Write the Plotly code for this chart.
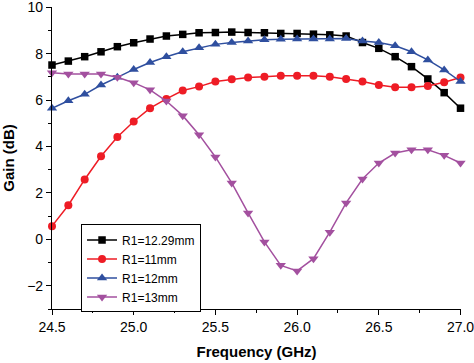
import plotly.graph_objects as go

freq = [24.5 + 0.1 * i for i in range(26)]
freq = [round(f, 1) for f in freq]

r1_1229 = [7.51, 7.68, 7.87, 8.08, 8.30, 8.47, 8.63, 8.76, 8.83, 8.90, 8.91, 8.93, 8.91,
           8.90, 8.87, 8.87, 8.84, 8.81, 8.76, 8.48, 8.23, 7.87, 7.44, 6.91, 6.32, 5.65]
r1_11 = [0.57, 1.47, 2.58, 3.58, 4.41, 5.08, 5.65, 6.05, 6.41, 6.58, 6.80, 6.90, 6.97,
         7.01, 7.05, 7.05, 7.05, 7.01, 6.91, 6.80, 6.65, 6.55, 6.55, 6.61, 6.77, 6.97]
r1_12 = [5.65, 5.97, 6.25, 6.65, 6.98, 7.32, 7.62, 7.87, 8.08, 8.25, 8.40, 8.48, 8.55,
         8.60, 8.62, 8.63, 8.63, 8.63, 8.65, 8.55, 8.48, 8.34, 8.08, 7.73, 7.30, 6.80]
r1_13 = [7.18, 7.12, 7.12, 7.12, 6.98, 6.75, 6.44, 5.96, 5.33, 4.51, 3.55, 2.43, 1.14,
         -0.11, -1.12, -1.36, -0.83, 0.31, 1.57, 2.60, 3.29, 3.72, 3.86, 3.86, 3.62, 3.29]

series = [
    ("R1=12.29mm", r1_1229, "#000000", "square", 7.5),
    ("R1=11mm", r1_11, "#ee1c25", "circle", 8),
    ("R1=12mm", r1_12, "#2f4f9f", "triangle-up", 9),
    ("R1=13mm", r1_13, "#a3509f", "triangle-down", 9),
]

fig = go.Figure()
for name, ys, col, sym, sz in series:
    fig.add_trace(go.Scatter(
        x=freq, y=ys, name=name, mode="lines+markers",
        line=dict(color=col, width=1.5),
        marker=dict(symbol=sym, size=sz, color=col),
        cliponaxis=False,
    ))

axis_common = dict(
    showline=True, linecolor="black", linewidth=1.2,
    ticks="outside", ticklen=5, tickwidth=1.2, tickcolor="black",
    showgrid=False, zeroline=False, ticklabeloverflow="allow", automargin=False,
    tickfont=dict(family="Liberation Sans, Arial", size=14, color="black"),
)

fig.update_xaxes(
    range=[24.5, 27.003], tick0=24.5, dtick=0.5, tickformat=".1f",
    minor=dict(ticks="outside", ticklen=3, tickwidth=1, tickcolor="black", dtick=0.25),
    title=dict(text="<b>Frequency (GHz)</b>", font=dict(family="Liberation Sans, Arial", size=15, color="black"), standoff=12),
    **axis_common,
)
fig.update_yaxes(
    range=[-3, 10.01], tick0=-2, dtick=2,
    minor=dict(ticks="outside", ticklen=3, tickwidth=1, tickcolor="black", dtick=1),
    title=dict(text="<b>Gain (dB)</b>", font=dict(family="Liberation Sans, Arial", size=15, color="black"), standoff=8),
    **axis_common,
)

fig.update_layout(
    width=474, height=363,
    margin=dict(l=52, r=13, t=7, b=54),
    plot_bgcolor="white", paper_bgcolor="white",
    legend=dict(
        x=0.071, y=0.28, xanchor="left", yanchor="top",
        bordercolor="black", borderwidth=1, bgcolor="white",
        font=dict(family="Liberation Sans, Arial", size=12, color="black"),
        tracegroupgap=0, itemsizing="trace", itemwidth=30,
    ),
)

fig.write_html("out.html", config={"displayModeBar": False},
               post_script="document.body.style.margin='0';")
